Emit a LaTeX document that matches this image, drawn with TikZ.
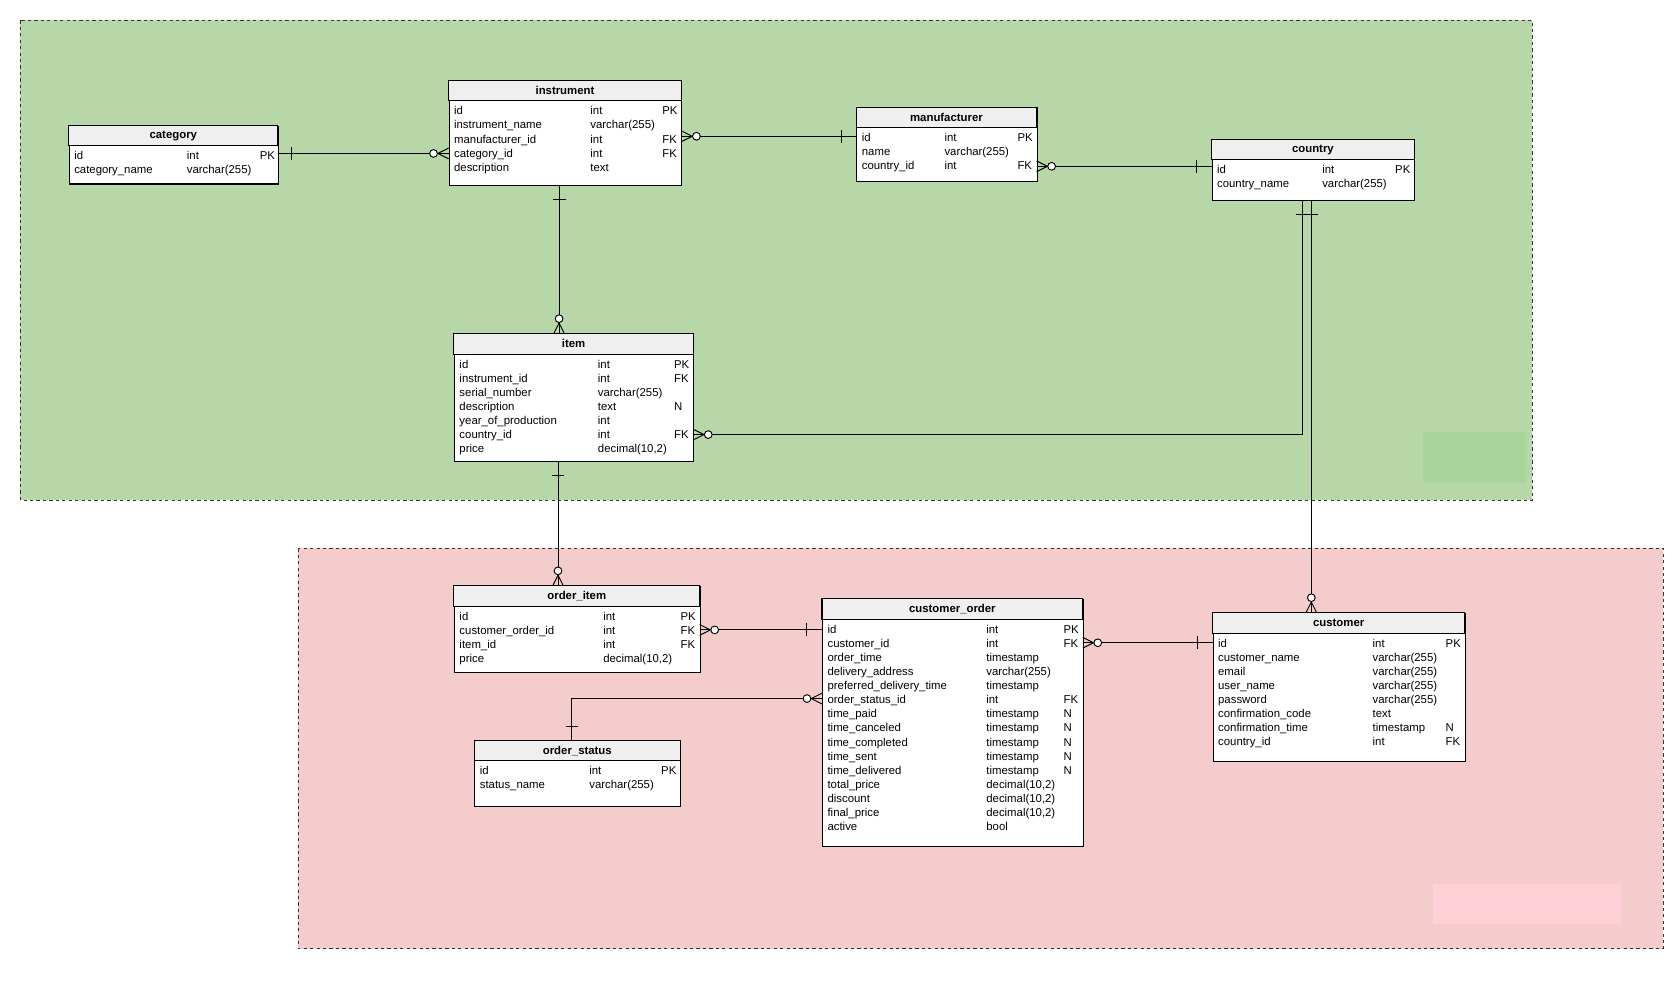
\documentclass[tikz,border=0pt]{standalone}
\usepackage{fontspec}
\setmainfont{Liberation Sans}
\usetikzlibrary{calc}
\definecolor{grn}{HTML}{B7D7A8}
\definecolor{grn2}{HTML}{A9D59C}
\definecolor{pnk}{HTML}{F4CCCC}
\definecolor{pnk2}{HTML}{FFD0D8}
\definecolor{hdr}{HTML}{EFEFEF}
\tikzset{
  zone/.style={draw=black!80, dashed, line width=0.8pt},
  tblbox/.style={draw, line width=1pt, fill=white, inner sep=0pt, anchor=north west},
  cell/.style={anchor=base west, inner sep=0pt, font=\fontsize{10.6}{12}\selectfont},
  ttl/.style={inner sep=0pt, font=\fontsize{10.6}{12}\selectfont\bfseries},
  rel/.style={line width=0.9pt},
}
% \mytable{name}{x}{y}{w}{h}{title}{col2}{col3}{rows}
\newcommand{\mytable}[9]{%
  \node[tblbox, minimum width=#4, minimum height=#5] (#1) at (#2,#3) {};
  \draw[fill=hdr, line width=1pt] (#2,#3) rectangle ({#2+#4},{#3+19});
  \node[ttl] (#1-t) at ({#2+#4/2},{#3+9.5}) {#6};
  \foreach \a/\b/\c [count=\i] in {#9} {
    \node[cell] (#1-a\i) at ({#2+5},{#3+19+13+(\i-1)*13.15}) {\a};
    \node[cell] (#1-b\i) at ({#2+#7},{#3+19+13+(\i-1)*13.15}) {\b};
    \node[cell] (#1-c\i) at ({#2+#8},{#3+19+13+(\i-1)*13.15}) {\c};
  }
}
% crow's foot with circle: point, dx, dy (outward direction)
\newcommand{\crow}[3]{%
  \draw[rel] ($(#1)+({-5*(#3)},{5*(#2)})$) -- ($(#1)+({10*(#2)},{10*(#3)})$) -- ($(#1)+({5*(#3)},{-5*(#2)})$);
  \draw[rel, fill=white] ($(#1)+({14*(#2)},{14*(#3)})$) circle (3.6);
}
% tick: point, dx, dy, distance
\newcommand{\tick}[4]{%
  \draw[rel] ($(#1)+({#4*(#2)-6*(#3)},{#4*(#3)+6*(#2)})$) -- ($(#1)+({#4*(#2)+6*(#3)},{#4*(#3)-6*(#2)})$);
}
\begin{document}
\begin{tikzpicture}[x=1pt,y=-1pt]
\useasboundingbox (0,0) rectangle (1560,935.6);
\fill[white] (0,0) rectangle (1560,935.6);
% zones
\fill[grn] (19,19) rectangle (1428,466);
\fill[grn2] (1326,403) rectangle (1422,450);
\draw[zone] (19,19) rectangle (1428,466);
\fill[pnk] (278,511) rectangle (1550,884);
\fill[pnk2] (1335,824) rectangle (1511,861);
\draw[zone] (278,511) rectangle (1550,884);

% tables
\mytable{category}{64}{117}{195}{54}{category}{110}{178}{id/int/PK, category\_name/varchar(255)/{}}
\mytable{instrument}{418}{75}{217}{97}{instrument}{132}{199}{id/int/PK, instrument\_name/varchar(255)/{}, manufacturer\_id/int/FK, category\_id/int/FK, description/text/{}}
\mytable{manufacturer}{798}{100}{168}{69}{manufacturer}{82}{150}{id/int/PK, name/varchar(255)/{}, country\_id/int/FK}
\mytable{country}{1129}{130}{189}{56}{country}{103}{171}{id/int/PK, country\_name/varchar(255)/{}}
\mytable{item}{423}{311}{223}{119}{item}{134}{205}{id/int/PK, instrument\_id/int/FK, serial\_number/varchar(255)/{}, description/text/N, year\_of\_production/int/{}, country\_id/int/FK, price/{decimal(10,2)}/{}}
\mytable{orderitem}{423}{546}{229}{80}{order\_item}{139}{211}{id/int/PK, customer\_order\_id/int/FK, item\_id/int/FK, price/{decimal(10,2)}/{}}
\mytable{customerorder}{766}{558}{243}{230}{customer\_order}{153}{225}{id/int/PK, customer\_id/int/FK, order\_time/timestamp/{}, delivery\_address/varchar(255)/{}, preferred\_delivery\_time/timestamp/{}, order\_status\_id/int/FK, time\_paid/timestamp/N, time\_canceled/timestamp/N, time\_completed/timestamp/N, time\_sent/timestamp/N, time\_delivered/timestamp/N, total\_price/{decimal(10,2)}/{}, discount/{decimal(10,2)}/{}, final\_price/{decimal(10,2)}/{}, active/bool/{}}
\mytable{customer}{1130}{571}{235}{138}{customer}{149}{217}{id/int/PK, customer\_name/varchar(255)/{}, email/varchar(255)/{}, user\_name/varchar(255)/{}, password/varchar(255)/{}, confirmation\_code/text/{}, confirmation\_time/timestamp/N, country\_id/int/FK}
\mytable{orderstatus}{442}{690}{192}{61}{order\_status}{107}{174}{id/int/PK, status\_name/varchar(255)/{}}

% connector end points
\coordinate (c1a) at (259,143); \coordinate (c1b) at (418,143);
\coordinate (c2a) at (635,127); \coordinate (c2b) at (798,127);
\coordinate (c3a) at (966,155); \coordinate (c3b) at (1129,155);
\coordinate (c4a) at (521,172); \coordinate (c4b) at (521,311);
\coordinate (c5a) at (1214,186); \coordinate (c5m) at (1214,405); \coordinate (c5b) at (646,405);
\coordinate (c6a) at (1222,186); \coordinate (c6b) at (1222,571);
\coordinate (c7a) at (520,430); \coordinate (c7b) at (520,546);
\coordinate (c8a) at (652,587); \coordinate (c8b) at (766,587);
\coordinate (c9a) at (1009,599); \coordinate (c9b) at (1130,599);
\coordinate (c10a) at (533,690); \coordinate (c10m) at (533,651); \coordinate (c10b) at (766,651);

\draw[rel] (c1a) -- (c1b); \tick{c1a}{1}{0}{13}; \crow{c1b}{-1}{0}
\draw[rel] (c2a) -- (c2b); \crow{c2a}{1}{0} \tick{c2b}{-1}{0}{14};
\draw[rel] (c3a) -- (c3b); \crow{c3a}{1}{0} \tick{c3b}{-1}{0}{14};
\draw[rel] (c4a) -- (c4b); \tick{c4a}{0}{1}{14}; \crow{c4b}{0}{-1}
\draw[rel] (c5a) -- (c5m) -- (c5b); \tick{c5a}{0}{1}{14}; \crow{c5b}{1}{0}
\draw[rel] (c6a) -- (c6b); \tick{c6a}{0}{1}{14}; \crow{c6b}{0}{-1}
\draw[rel] (c7a) -- (c7b); \tick{c7a}{0}{1}{13}; \crow{c7b}{0}{-1}
\draw[rel] (c8a) -- (c8b); \crow{c8a}{1}{0} \tick{c8b}{-1}{0}{14};
\draw[rel] (c9a) -- (c9b); \crow{c9a}{1}{0} \tick{c9b}{-1}{0}{14};
\draw[rel] (c10a) -- (c10m) -- (c10b); \tick{c10a}{0}{-1}{13}; \crow{c10b}{-1}{0}
\end{tikzpicture}
\end{document}
